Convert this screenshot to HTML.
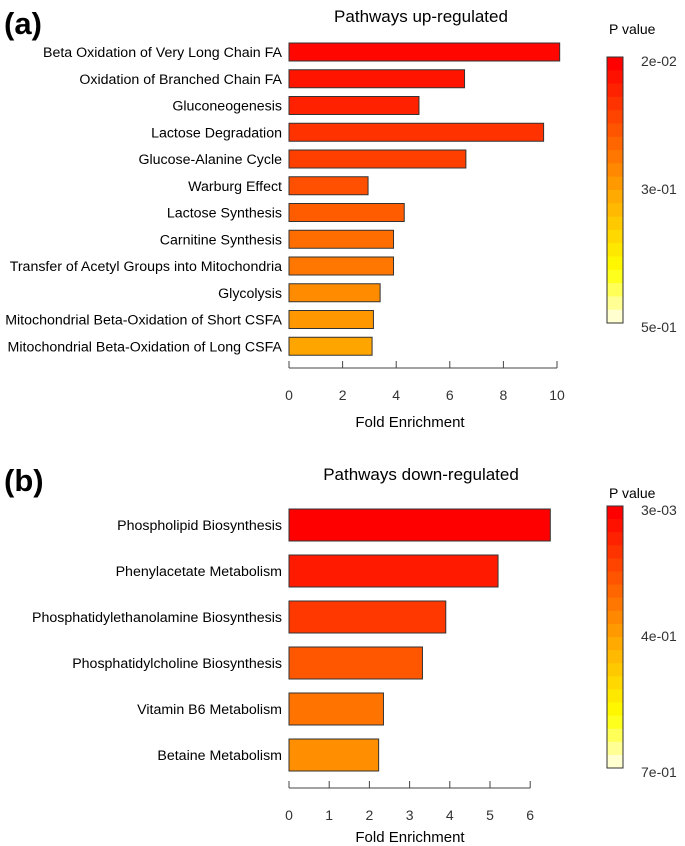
<!DOCTYPE html>
<html><head><meta charset="utf-8"><style>
body{margin:0;background:#fff}
svg{display:block;font-family:"Liberation Sans",Arial,sans-serif}
</style></head><body>
<svg id="c" width="685" height="846">
<text x="4" y="34" font-size="31" font-weight="bold">(a)</text>
<text x="421" y="22" font-size="17" text-anchor="middle">Pathways up-regulated</text>
<text x="609" y="34" font-size="14">P value</text>
<text x="410" y="427" font-size="15" text-anchor="middle">Fold Enrichment</text>
<text x="4" y="491" font-size="31" font-weight="bold">(b)</text>
<text x="421" y="480" font-size="17" text-anchor="middle">Pathways down-regulated</text>
<text x="609" y="498" font-size="14">P value</text>
<text x="410" y="842" font-size="15" text-anchor="middle">Fold Enrichment</text>
</svg>
<script>
const catsA=["Beta Oxidation of Very Long Chain FA","Oxidation of Branched Chain FA","Gluconeogenesis","Lactose Degradation","Glucose-Alanine Cycle","Warburg Effect","Lactose Synthesis","Carnitine Synthesis","Transfer of Acetyl Groups into Mitochondria","Glycolysis","Mitochondrial Beta-Oxidation of Short CSFA","Mitochondrial Beta-Oxidation of Long CSFA"];
const valsA=[10.1,6.55,4.85,9.5,6.6,2.95,4.3,3.9,3.9,3.4,3.15,3.1];
const pPosA=[0.02,0.06,0.1,0.15,0.19,0.24,0.28,0.33,0.36,0.42,0.46,0.5];
const ticksA=[0,2,4,6,8,10];
const legendA=["2e-02","3e-01","5e-01"];
const catsB=["Phospholipid Biosynthesis","Phenylacetate Metabolism","Phosphatidylethanolamine Biosynthesis","Phosphatidylcholine Biosynthesis","Vitamin B6 Metabolism","Betaine Metabolism"];
const valsB=[6.5,5.2,3.9,3.32,2.35,2.23];
const pPosB=[0,0.08,0.17,0.26,0.35,0.43];
const ticksB=[0,1,2,3,4,5,6];
const legendB=["3e-03","4e-01","7e-01"];
const NS="http://www.w3.org/2000/svg";
const svg=document.getElementById('c');
function mk(t,a){const e=document.createElementNS(NS,t);for(const k in a)e.setAttribute(k,a[k]);svg.appendChild(e);return e;}
function heat(t){let r,g,b;if(t<0.5){r=255;g=Math.round(330*t);b=0;}else if(t<0.8){r=255;g=Math.round(165+90*(t-0.5)/0.3);b=0;}else{r=255;g=255;b=Math.round(230*(t-0.8)/0.2);}return `rgb(${r},${g},${b})`;}
function chart(o){
  const sx=v=>o.x0+v*o.k;
  o.cats.forEach((c,i)=>{
    const y=o.y0+i*o.pitch;
    const r=mk('rect',{x:sx(0),y:y,width:sx(o.vals[i])-sx(0),height:o.bh,fill:heat(o.pp[i]),stroke:'#333','stroke-width':1});
    
    
    const t=mk('text',{x:282,y:y+o.bh/2+5,'font-size':14.2,'text-anchor':'end'});t.textContent=c;
    
    
  });
  const ax=mk('line',{x1:sx(o.ticks[0]),x2:sx(o.ticks[o.ticks.length-1]),y1:o.ay,y2:o.ay,stroke:'#444'});
  
  
  o.ticks.forEach(v=>{
    mk('line',{x1:sx(v),x2:sx(v),y1:o.ay,y2:o.ay-7,stroke:'#444'});
    const t=mk('text',{x:sx(v),y:o.ay+32,'font-size':14,'text-anchor':'middle',fill:'#333'});t.textContent=v;
    
    
  });
  const n=20,h=(o.cb1-o.cb0)/n;
  for(let i=0;i<n;i++){mk('rect',{x:607,y:o.cb0+i*h,width:16,height:h+0.5,fill:heat(i/(n-1)*0.98)});}
  const cb=mk('rect',{x:607,y:o.cb0,width:16,height:o.cb1-o.cb0,fill:'none',stroke:'#333'});
  
  
  o.legend.forEach((l,i)=>{
    const y=o.cb0+i*(o.cb1-o.cb0)/2+(i==0?5:i==2?5:0);
    const t=mk('text',{x:641,y:y+4,'font-size':14,fill:'#333'});t.textContent=l;
    
    
  });
}
chart({id:'a',cats:catsA,vals:valsA,pp:pPosA,ticks:ticksA,x0:289,k:26.8,y0:43,pitch:26.75,bh:18,ay:368,cb0:57,cb1:323,legend:legendA});
chart({id:'b',cats:catsB,vals:valsB,pp:pPosB,ticks:ticksB,x0:289,k:40.2,y0:509,pitch:46,bh:32,ay:788,cb0:506,cb1:768,legend:legendB});
</script>
</body></html>
